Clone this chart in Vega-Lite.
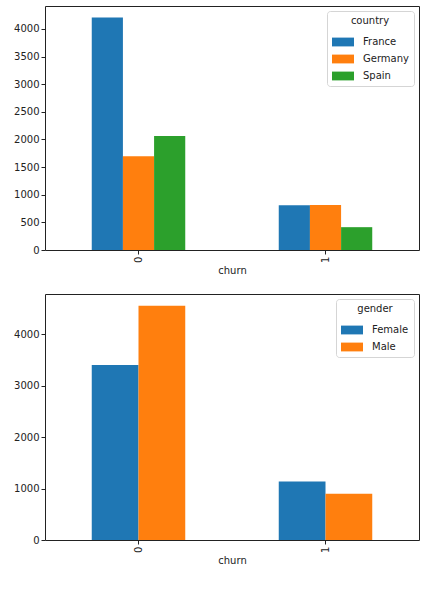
{
  "$schema": "https://vega.github.io/schema/vega-lite/v6.json",
  "background": "white",
  "padding": {"left": 13, "top": 5, "right": 11, "bottom": 5},
  "spacing": 17,
  "resolve": {
    "scale": {"color": "independent", "xOffset": "independent", "y": "independent"},
    "legend": {"color": "independent"}
  },
  "datasets": {
    "country": [
      {"churn": "0", "country": "France", "count": 4204},
      {"churn": "0", "country": "Germany", "count": 1695},
      {"churn": "0", "country": "Spain", "count": 2064},
      {"churn": "1", "country": "France", "count": 810},
      {"churn": "1", "country": "Germany", "count": 814},
      {"churn": "1", "country": "Spain", "count": 413}
    ],
    "gender": [
      {"churn": "0", "gender": "Female", "count": 3404},
      {"churn": "0", "gender": "Male", "count": 4559},
      {"churn": "1", "gender": "Female", "count": 1139},
      {"churn": "1", "gender": "Male", "count": 898}
    ]
  },
  "vconcat": [
    {
      "width": 374,
      "height": 244,
      "data": {"name": "country"},
      "mark": {"type": "bar", "strokeWidth": 0},
      "encoding": {
        "x": {
          "field": "churn", "type": "nominal", "title": "churn",
          "scale": {"paddingInner": 0.5, "paddingOuter": 0.25},
          "axis": {"labelAngle": 270}
        },
        "xOffset": {"field": "country", "type": "nominal", "scale": {"paddingInner": 0, "paddingOuter": 0}},
        "y": {
          "field": "count", "type": "quantitative", "title": null,
          "scale": {"domain": [0, 4414], "nice": false},
          "axis": {"values": [0, 500, 1000, 1500, 2000, 2500, 3000, 3500, 4000], "format": "d"}
        },
        "color": {
          "field": "country", "type": "nominal", "title": "country",
          "scale": {"range": ["#1f77b4", "#ff7f0e", "#2ca02c"]},
          "legend": {"orient": "top-right", "offset": 5}
        }
      }
    },
    {
      "width": 374,
      "height": 246,
      "data": {"name": "gender"},
      "mark": {"type": "bar", "strokeWidth": 0},
      "encoding": {
        "x": {
          "field": "churn", "type": "nominal", "title": "churn",
          "scale": {"paddingInner": 0.5, "paddingOuter": 0.25},
          "axis": {"labelAngle": 270}
        },
        "xOffset": {"field": "gender", "type": "nominal", "scale": {"paddingInner": 0, "paddingOuter": 0}},
        "y": {
          "field": "count", "type": "quantitative", "title": null,
          "scale": {"domain": [0, 4787], "nice": false},
          "axis": {"values": [0, 1000, 2000, 3000, 4000], "format": "d"}
        },
        "color": {
          "field": "gender", "type": "nominal", "title": "gender",
          "scale": {"range": ["#1f77b4", "#ff7f0e"]},
          "legend": {"orient": "top-right", "offset": 5}
        }
      }
    }
  ],
  "config": {
    "font": "DejaVu Sans",
    "view": {"stroke": "#222", "strokeWidth": 1},
    "axis": {
      "grid": false,
      "domain": false,
      "labelFontSize": 10,
      "labelColor": "#222",
      "labelPadding": 2,
      "tickColor": "#222",
      "tickSize": 4,
      "titleFontSize": 10,
      "titleFontWeight": "normal",
      "titleColor": "#222",
      "titlePadding": 3
    },
    "legend": {
      "titleFontSize": 10,
      "titleFontWeight": "normal",
      "titleColor": "#222",
      "titleAnchor": "middle",
      "labelFontSize": 10,
      "labelColor": "#222",
      "labelOffset": 9,
      "symbolType": "M-1,-0.4H1V0.4H-1Z",
      "symbolSize": 484,
      "symbolStrokeWidth": 0,
      "symbolOpacity": 1,
      "rowPadding": 1,
      "padding": 5,
      "strokeColor": "#d5d5d5",
      "fillColor": "white",
      "cornerRadius": 3
    }
  }
}
